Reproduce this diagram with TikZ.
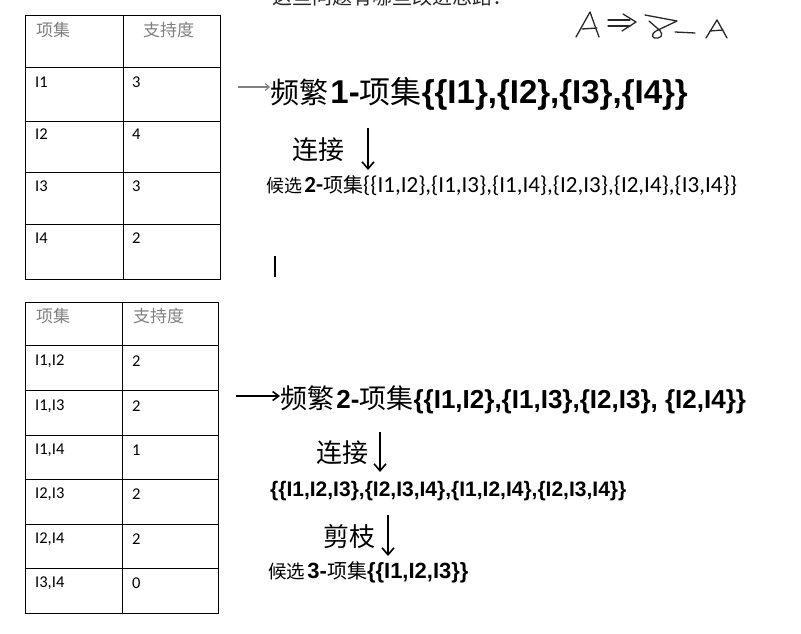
\documentclass[tikz,border=0pt]{standalone}
\usepackage{fontspec}
\setmainfont{Carlito}
\newfontfamily\cjk{Noto Sans CJK SC}
\newfontfamily\arial{Liberation Sans}
\usetikzlibrary{arrows.meta}
\definecolor{hdrgray}{RGB}{128,128,128}
\definecolor{ink}{RGB}{40,40,40}
\newcommand{\fs}[1]{\fontsize{#1}{#1}\selectfont}
\begin{document}
\begin{tikzpicture}[x=1pt,y=-1pt,
  gridline/.style={line width=1pt, black},
  hdr/.style={anchor=west, inner sep=0pt, text=hdrgray, font=\cjk\fs{17}},
  cell/.style={anchor=west, inner sep=0pt, font=\fs{16.5}},
  txt/.style={anchor=base west, inner sep=0pt},
  lbl/.style={anchor=center, inner sep=0pt, font=\cjk\fs{26}},
  downarrow/.style={-{Straight Barb[length=7pt,width=12pt]}, line width=1.6pt},
  hand/.style={line width=1.3pt, line cap=round, line join=round, ink}]
\useasboundingbox (0,0) rectangle (801,634);

% top cut text
\node[anchor=west, inner sep=0pt, text=ink, font=\cjk\fs{20}] (top) at (272,-3) {这些问题有哪些改进思路：};

% handwriting A => B - A
\draw[hand] (576,37) -- (590,12) -- (599,37);
\draw[hand] (582,29) -- (597,28);
\draw[hand] (608,20) -- (630,20);
\draw[hand] (608,26) -- (630,26);
\draw[hand] (623,14) -- (636,22) -- (622,31);
\draw[hand] (645,15) -- (677,21) -- (656,31) .. controls (650,35) and (652,39) .. (658,38) .. controls (664,37) and (662,31) .. (657,28) -- (649,21);
\draw[hand] (675,32) -- (695,33);
\draw[hand] (706,38) -- (717,20) -- (727,38);
\draw[hand] (710,31) -- (723,30);

% table 1
\draw[gridline] (25,16) rectangle (220,279);
\draw[gridline] (123,16) -- (123,279);
\foreach \yy in {68,121,172,224} \draw[gridline] (25,\yy) -- (220,\yy);
\node[hdr] (t1h1) at (36,30) {项集};
\node[hdr] (t1h2) at (143,30) {支持度};
\node[cell] (t1a1) at (35,82) {I1};  \node[cell] (t1b1) at (132,82) {3};
\node[cell] (t1a2) at (35,134) {I2}; \node[cell] (t1b2) at (132,134) {4};
\node[cell] (t1a3) at (35,186) {I3}; \node[cell] (t1b3) at (132,186) {3};
\node[cell] (t1a4) at (35,238) {I4}; \node[cell] (t1b4) at (132,238) {2};

% table 2
\draw[gridline] (25,302) rectangle (218,613);
\draw[gridline] (122,302) -- (122,613);
\foreach \yy in {345,390,435,479,524,568} \draw[gridline] (25,\yy) -- (218,\yy);
\node[hdr] (t2h1) at (36,316) {项集};
\node[hdr] (t2h2) at (133,316) {支持度};
\node[cell] (t2a1) at (35,361) {I1,I2}; \node[cell] (t2b1) at (132,361) {2};
\node[cell] (t2a2) at (35,406) {I1,I3}; \node[cell] (t2b2) at (132,406) {2};
\node[cell] (t2a3) at (35,450) {I1,I4}; \node[cell] (t2b3) at (132,450) {1};
\node[cell] (t2a4) at (35,494) {I2,I3}; \node[cell] (t2b4) at (132,494) {2};
\node[cell] (t2a5) at (35,539) {I2,I4}; \node[cell] (t2b5) at (132,539) {2};
\node[cell] (t2a6) at (35,583) {I3,I4}; \node[cell] (t2b6) at (132,583) {0};

% line 1
\node[txt] (f1) at (270,103) {{\cjk\fs{29}频繁} {\arial\bfseries\fs{33}1-}{\cjk\fs{31}项集}{\arial\bfseries\fs{33}\{\{I1\},\{I2\},\{I3\},\{I4\}\}}};
\coordinate (a1s) at (238,87);
\draw[-{Straight Barb[length=4pt,width=7pt]}, line width=1.1pt, hdrgray] (a1s) -- (f1.west |- a1s);

\node[lbl] (j1) at (318,150) {连接};
\coordinate (d1s) at (368,128);
\coordinate (d1e) at (368,170);
\draw[downarrow] (d1s) -- (d1e);

\node[txt] (c2) at (266,192) {{\cjk\fs{18}候选} {\bfseries\fs{23}2-}{\cjk\fs{20}项集}{\fs{23}\{\{I1,I2\},\{I1,I3\},\{I1,I4\},\{I2,I3\},\{I2,I4\},\{I3,I4\}\}}};

% cursor
\draw[line width=1.6pt] (275,256) -- (275,277);

% line 2
\node[txt] (f2) at (280,408) {{\cjk\fs{27}频繁} {\arial\bfseries\fs{26}2-}{\cjk\fs{27}项集}{\arial\bfseries\fs{26}\{\{I1,I2\},\{I1,I3\},\{I2,I3\}, \{I2,I4\}\}}};
\coordinate (a2s) at (236,396);
\draw[-{Straight Barb[length=6pt,width=9pt]}, line width=1.6pt] (a2s) -- (f2.west |- a2s);

\node[lbl] (j2) at (342,453) {连接};
\coordinate (d2s) at (380,432);
\coordinate (d2e) at (380,472);
\draw[downarrow] (d2s) -- (d2e);

\node[txt] (c3j) at (270,496) {\arial\bfseries\fs{21}\{\{I1,I2,I3\},\{I2,I3,I4\},\{I1,I2,I4\},\{I2,I3,I4\}\}};

\node[lbl] (p1) at (349,537) {剪枝};
\coordinate (d3s) at (388,515);
\coordinate (d3e) at (388,556);
\draw[downarrow] (d3s) -- (d3e);

\node[txt] (c3) at (268,578) {{\cjk\fs{18.5}候选} {\arial\bfseries\fs{22}3-}{\cjk\fs{20}项集}{\arial\bfseries\fs{22}\{\{I1,I2,I3\}\}}};
\end{tikzpicture}
\end{document}
